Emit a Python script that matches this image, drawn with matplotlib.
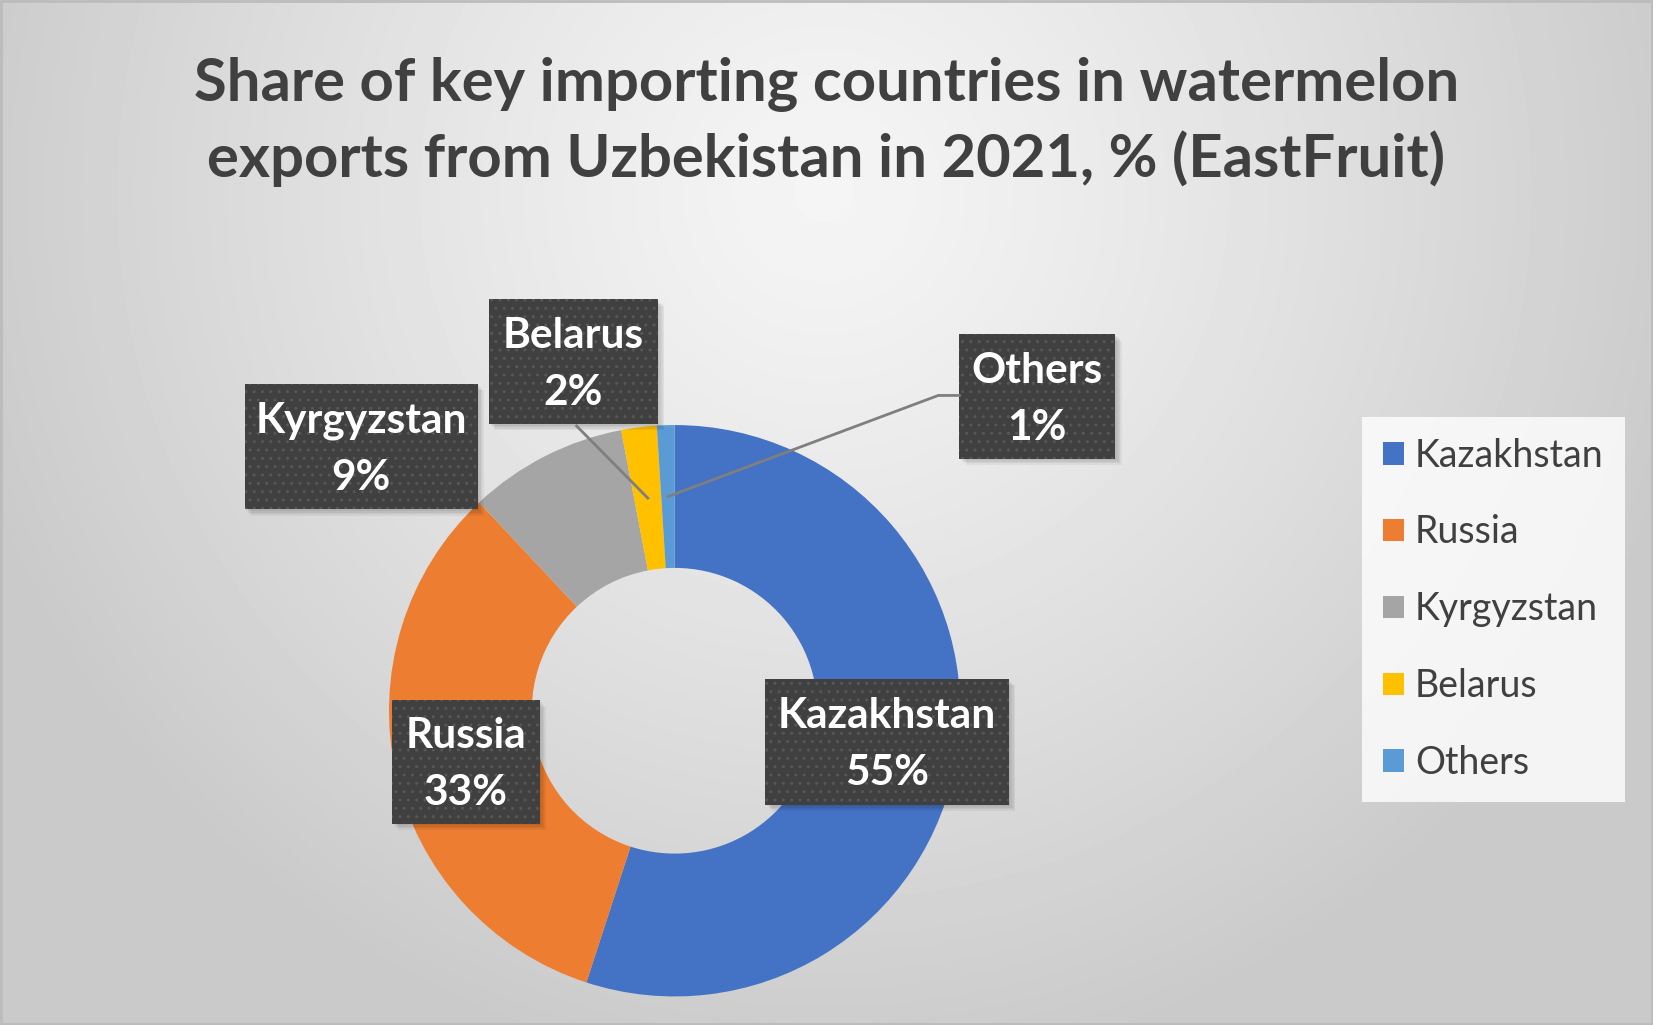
import numpy as np
import matplotlib
matplotlib.use("Agg")
import matplotlib.pyplot as plt
from matplotlib.patches import Rectangle

# data
countries = ["Kazakhstan", "Russia", "Kyrgyzstan", "Belarus", "Others"]
shares = [55, 33, 9, 2, 1]
colors = ["#4472C4", "#ED7D31", "#A5A5A5", "#FFC000", "#5B9BD5"]
title_lines = ["Share of key importing countries in watermelon",
               "exports from Uzbekistan in 2021, % (EastFruit)"]

# layout is worked out on a 1568 x 972 grid (y down)
W, H = 1568, 972
CX, CY, R = 640, 674, 271
label_boxes = {
    "Kazakhstan": (726, 644, 957, 763),
    "Russia": (372, 664, 512, 781),
    "Kyrgyzstan": (232, 364, 453, 483),
    "Belarus": (464, 284, 624, 402),
    "Others": (910, 317, 1058, 435),
}

plt.rcParams['font.family'] = ['Lato', 'DejaVu Sans']
fig = plt.figure(figsize=(16.53, 10.25), dpi=100)

# background with soft radial shading
bg = fig.add_axes([0, 0, 1, 1])
yy, xx = np.mgrid[0:H:4, 0:W:4]
d = np.hypot(xx - 780, yy - 180) / 850
shade = 0.96 - 0.17 * np.clip(d, 0, 1) ** 1.2
bg.imshow(shade, cmap='gray', vmin=0, vmax=1, extent=(0, W, H, 0),
          interpolation='bilinear', aspect='auto')
bg.set_xlim(0, W)
bg.set_ylim(H, 0)
bg.axis('off')

# donut
pax = fig.add_axes([(CX - 300) / W, (H - CY - 300) / H, 600 / W, 600 / H])
wedges, _ = pax.pie(shares, colors=colors, startangle=90, counterclock=False,
                    radius=R / 300, wedgeprops=dict(width=0.5 * R / 300, linewidth=0))
pax.set_xlim(-1, 1)
pax.set_ylim(-1, 1)
pax.axis('off')

# overlay for title, labels, legend
ov = fig.add_axes([0, 0, 1, 1])
ov.set_xlim(0, W)
ov.set_ylim(H, 0)
ov.axis('off')
ov.patch.set_alpha(0)

ov.text(W / 2, 96, title_lines[0], ha='center', va='baseline',
        fontsize=43, fontweight='bold', color='#404040')
ov.text(W / 2, 168, title_lines[1], ha='center', va='baseline',
        fontsize=43, fontweight='bold', color='#404040')

# leader lines for the thin slices
for name, w in zip(countries, wedges):
    if name not in ("Belarus", "Others"):
        continue
    mid = np.deg2rad((w.theta1 + w.theta2) / 2)
    ax_, ay_ = CX + 0.75 * R * np.cos(mid), CY - 0.75 * R * np.sin(mid)
    x0, y0, x1, y1 = label_boxes[name]
    if name == "Belarus":
        ov.plot([547, ax_], [y1 + 2, ay_], color='#7f7f7f', lw=2)
    else:
        ov.plot([x0, x0 - 20, ax_], [(y0 + y1) / 2 - 1, (y0 + y1) / 2 - 1, ay_],
                color='#7f7f7f', lw=2)

# data labels
for name, val in zip(countries, shares):
    x0, y0, x1, y1 = label_boxes[name]
    for k in range(1, 5):
        ov.add_patch(Rectangle((x0 + 1.5 * k, y0 + 1.5 * k), x1 - x0, y1 - y0,
                               facecolor='black', alpha=0.05, lw=0))
    ov.add_patch(Rectangle((x0, y0), x1 - x0, y1 - y0, facecolor='#404040',
                           edgecolor='#575757', lw=0, hatch='..'))
    cy = (y0 + y1) / 2
    ov.text((x0 + x1) / 2, cy - 27 + 14, name, ha='center', va='baseline',
            fontsize=30.5, fontweight='bold', color='white')
    ov.text((x0 + x1) / 2, cy + 27 + 14, f"{val}%", ha='center', va='baseline',
            fontsize=30.5, fontweight='bold', color='white')

leg = fig.legend(wedges, countries, loc='upper left',
                 bbox_to_anchor=(1292 / W, 1 - 395 / H), fontsize=27,
                 handlelength=0.55, handleheight=0.55, handletextpad=0.3,
                 labelspacing=1.09, borderpad=0.56, borderaxespad=0,
                 frameon=True, fancybox=False, labelcolor='#404040')
leg.get_frame().set_facecolor((1, 1, 1, 0.35))
leg.get_frame().set_edgecolor('none')

# chart border
ov.add_patch(Rectangle((1, 1), W - 2, H - 2, fill=False, edgecolor='#bcbcbc', lw=2))

fig.savefig("out.png", dpi=100)
